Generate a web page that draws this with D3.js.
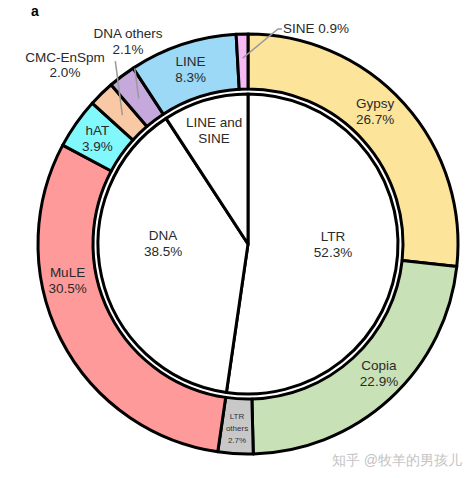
<!DOCTYPE html>
<html lang="en">
	<head>
		<meta charset="utf-8">
		<title>TE composition</title>
		<script src="https://d3js.org/d3.v7.min.js"></script>
		<style>
			body { margin: 0; background: #fff; }
			text { font-family: "Liberation Sans", Arial, sans-serif; }
		</style>
	</head>
	<body>
		<script type="text/javascript">

			// outer ring: subfamilies
			var ringNames = ["Gypsy", "Copia", "LTR others", "MuLE", "hAT", "CMC-EnSpm", "DNA others", "LINE", "SINE"];
			var ringValues = [26.7, 22.9, 2.7, 30.5, 3.9, 2.0, 2.1, 8.3, 0.9];
			var ringColors = ["#fde49b", "#c9e1b6", "#c8c8c8", "#ff9a9a", "#80f8fc", "#f8c9a4", "#c6a9dc", "#9cd9f6", "#f5b9f3"];

			// inner pie: classes
			var pieNames = ["LTR", "DNA", "LINE and SINE"];
			var pieValues = [52.3, 38.5, 9.2];

			var w = 474;
			var h = 478;
			var cx = 248, cy = 244;
			var rOut = 210, rIn = 155, rPie = 150;
			var fs = 13.5;

			var svg = d3.select("body").append("svg").attr("width", w).attr("height", h);
			var g = svg.append("g").attr("transform", "translate(" + cx + "," + cy + ")");

			var pie = d3.pie().sort(null).value(function(d) { return d; });

			// polar -> xy (angle in degrees, clockwise from top)
			function polar(a, r) {
				var t = a * Math.PI / 180;
				return [r * Math.sin(t), -r * Math.cos(t)];
			}
			function midDeg(d) { return (d.startAngle + d.endAngle) / 2 * 180 / Math.PI; }

			// ring
			var ringArc = d3.arc().innerRadius(rIn).outerRadius(rOut);
			var ringData = pie(ringValues);
			g.selectAll("path.ring")
				.data(ringData)
				.enter()
				.append("path")
				.attr("class", "ring")
				.attr("d", ringArc)
				.attr("fill", function(d, i) { return ringColors[i]; })
				.attr("stroke", "#000")
				.attr("stroke-width", 3)
				.attr("stroke-linejoin", "round");

			// inner pie
			var pieArc = d3.arc().innerRadius(0).outerRadius(rPie);
			var pieData = pie(pieValues);
			g.selectAll("path.pie")
				.data(pieData)
				.enter()
				.append("path")
				.attr("class", "pie")
				.attr("d", pieArc)
				.attr("fill", "#fff")
				.attr("stroke", "#000")
				.attr("stroke-width", 3)
				.attr("stroke-linejoin", "round");

			// label placement: angle override
			var ringLabelAngle = { "Gypsy": 43.7, "Copia": 134.6, "MuLE": 258.8 };
			var inside = ["Gypsy", "Copia", "MuLE", "hAT", "LINE"];

			ringData.forEach(function(d, i) {
				var name = ringNames[i];
				var a = ringLabelAngle[name] !== undefined ? ringLabelAngle[name] : midDeg(d);
				var p = polar(a, 184);
				if (name === "LTR others") {
					var t = g.append("text").attr("text-anchor", "middle")
						.attr("font-size", 8).attr("fill", "#333");
					["LTR", "others", d.value + "%"].forEach(function(s, k) {
						t.append("tspan").attr("x", p[0]).attr("y", p[1] - 9 + k * 12).text(s);
					});
				} else if (inside.indexOf(name) >= 0) {
					var t = g.append("text").attr("text-anchor", "middle")
						.attr("font-size", fs).attr("fill", "#2a2a2a");
					t.append("tspan").attr("x", p[0]).attr("y", p[1] - 3).text(name);
					t.append("tspan").attr("x", p[0]).attr("y", p[1] + 13).text(d.value.toFixed(1) + "%");
				}
			});

			// outside labels with leader lines
			var cmc = ringData[5], dno = ringData[6], sine = ringData[8];

			var lc = polar(midDeg(cmc), 180);
			g.append("line").attr("x1", lc[0]).attr("y1", lc[1]).attr("x2", lc[0] - 7).attr("y2", lc[1] - 54)
				.attr("stroke", "#999").attr("stroke-width", 1.5);
			var tc = g.append("text").attr("text-anchor", "middle").attr("font-size", fs).attr("fill", "#2a2a2a");
			tc.append("tspan").attr("x", 65 - cx).attr("y", 62 - cy).text("CMC-EnSpm");
			tc.append("tspan").attr("x", 65 - cx).attr("y", 77 - cy).text(cmc.value.toFixed(1) + "%");

			var ld = polar(midDeg(dno), 182);
			g.append("line").attr("x1", ld[0]).attr("y1", ld[1]).attr("x2", ld[0] - 4).attr("y2", ld[1] - 30)
				.attr("stroke", "#999").attr("stroke-width", 1.5);
			var td = g.append("text").attr("text-anchor", "middle").attr("font-size", fs).attr("fill", "#2a2a2a");
			td.append("tspan").attr("x", 128 - cx).attr("y", 38 - cy).text("DNA others");
			td.append("tspan").attr("x", 128 - cx).attr("y", 54 - cy).text(dno.value.toFixed(1) + "%");

			var ls = polar(midDeg(sine), 186);
			g.append("polyline")
				.attr("points", [ls, [278 - cx, 29 - cy], [282 - cx, 29 - cy]].map(function(p) { return p.join(","); }).join(" "))
				.attr("fill", "none").attr("stroke", "#999").attr("stroke-width", 1.5);
			g.append("text").attr("x", 283 - cx).attr("y", 33 - cy).attr("font-size", fs).attr("fill", "#2a2a2a")
				.text("SINE " + sine.value.toFixed(1) + "%");

			// inner labels
			var pieLabelAngle = { "DNA": 270.7, "LTR": 90 };
			var pieLabelR = { "LTR": 85, "DNA": 85, "LINE and SINE": 119 };
			pieData.forEach(function(d, i) {
				var name = pieNames[i];
				var a = pieLabelAngle[name] !== undefined ? pieLabelAngle[name] : midDeg(d);
				var p = polar(a, pieLabelR[name]);
				var t = g.append("text").attr("text-anchor", "middle").attr("font-size", fs).attr("fill", "#2a2a2a");
				if (name === "LINE and SINE") {
					t.append("tspan").attr("x", p[0]).attr("y", p[1] - 3).text("LINE and");
					t.append("tspan").attr("x", p[0]).attr("y", p[1] + 13).text("SINE");
				} else {
					t.append("tspan").attr("x", p[0]).attr("y", p[1] - 3).text(name);
					t.append("tspan").attr("x", p[0]).attr("y", p[1] + 13).text(d.value.toFixed(1) + "%");
				}
			});

			// panel letter
			svg.append("text").attr("x", 31).attr("y", 16).attr("font-size", 14).attr("font-weight", "bold").text("a");

			// watermark
			svg.append("text").attr("x", 462).attr("y", 465).attr("text-anchor", "end")
				.attr("font-family", "Noto Sans CJK SC").attr("font-size", 14).attr("fill", "#c4c4c4")
				.text("知乎 @牧羊的男孩儿");

		</script>
	</body>
</html>
